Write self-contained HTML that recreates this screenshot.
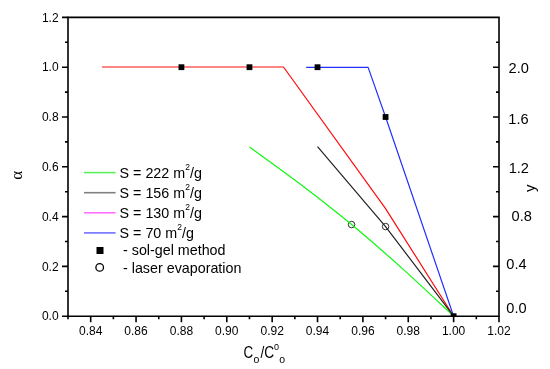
<!DOCTYPE html>
<html><head><meta charset="utf-8"><style>
html,body{margin:0;padding:0;background:#fff;}
svg{display:block;}
text{font-family:"Liberation Sans",Arial,sans-serif;fill:#000;}
</style></head><body>
<svg width="550" height="369" viewBox="0 0 550 369">
<rect width="550" height="369" fill="#fff"/>
<defs><clipPath id="c"><rect x="68" y="17.4" width="431" height="298.8"/></clipPath></defs>
<g clip-path="url(#c)"><circle cx="385.58" cy="226.56" r="3.25" fill="none" stroke="#222" stroke-width="0.95"/><circle cx="351.55" cy="224.57" r="3.25" fill="none" stroke="#222" stroke-width="0.95"/><path d="M102.03 67L283.5 67L385.58 208.63L453.63 316.2" fill="none" stroke="#ff0a0a" stroke-width="1.2" stroke-linejoin="round"/><path d="M249.6 147.1C258.83 153.87 288.05 174.83 305 187.7C321.95 200.57 334.88 210.65 351.3 224.3C367.72 237.95 386.44 254.28 403.5 269.6C420.56 284.92 445.28 308.43 453.63 316.2" fill="none" stroke="#10f810" stroke-width="1.2" stroke-linejoin="round"/><path d="M317.53 146.63L385.58 226.56L453.63 316.2" fill="none" stroke="#222" stroke-width="1.2" stroke-linejoin="round"/><path d="M306.18 67.35L368.11 67.35L385.58 117L453.63 316.2" fill="none" stroke="#2030ff" stroke-width="1.2" stroke-linejoin="round"/><rect x="178.52" y="64.3" width="5.8" height="5.8" fill="#000"/><rect x="246.57" y="64.3" width="5.8" height="5.8" fill="#000"/><rect x="314.63" y="64.3" width="5.8" height="5.8" fill="#000"/><rect x="382.68" y="114.1" width="5.8" height="5.8" fill="#000"/><rect x="450.73" y="313.3" width="5.8" height="5.8" fill="#000"/></g>
<path d="M68 17.4H499V316.2H68Z" fill="none" stroke="#000" stroke-width="1.6"/><path d="M68 316.2h-6M68 291.3h-3M68 266.4h-6M68 241.5h-3M68 216.6h-6M68 191.7h-3M68 166.8h-6M68 141.9h-3M68 117h-6M68 92.1h-3M68 67.2h-6M68 42.3h-3M68 17.4h-6M499 291.3h-3M499 266.4h-6M499 241.5h-3M499 216.6h-6M499 191.7h-3M499 166.8h-6M499 141.9h-3M499 117h-6M499 92.1h-3M499 67.2h-6M499 42.3h-3M68 316.2v3M90.68 316.2v6M113.37 316.2v3M136.05 316.2v6M158.74 316.2v3M181.42 316.2v6M204.11 316.2v3M226.79 316.2v6M249.47 316.2v3M272.16 316.2v6M294.84 316.2v3M317.53 316.2v6M340.21 316.2v3M362.89 316.2v6M385.58 316.2v3M408.26 316.2v6M430.95 316.2v3M453.63 316.2v6M476.32 316.2v3M499 316.2v6" fill="none" stroke="#000" stroke-width="1.6"/>
<g font-size="12">
<text x="58.6" y="320.4" text-anchor="end">0.0</text><text x="58.6" y="270.6" text-anchor="end">0.2</text><text x="58.6" y="220.8" text-anchor="end">0.4</text><text x="58.6" y="171" text-anchor="end">0.6</text><text x="58.6" y="121.2" text-anchor="end">0.8</text><text x="58.6" y="71.4" text-anchor="end">1.0</text><text x="58.6" y="21.6" text-anchor="end">1.2</text><text x="90.68" y="334.7" text-anchor="middle">0.84</text><text x="136.05" y="334.7" text-anchor="middle">0.86</text><text x="181.42" y="334.7" text-anchor="middle">0.88</text><text x="226.79" y="334.7" text-anchor="middle">0.90</text><text x="272.16" y="334.7" text-anchor="middle">0.92</text><text x="317.53" y="334.7" text-anchor="middle">0.94</text><text x="362.89" y="334.7" text-anchor="middle">0.96</text><text x="408.26" y="334.7" text-anchor="middle">0.98</text><text x="453.63" y="334.7" text-anchor="middle">1.00</text><text x="499" y="334.7" text-anchor="middle">1.02</text>
</g>
<g font-size="14.6"><text x="506.3" y="312.5">0.0</text><text x="506.3" y="268.6">0.4</text><text x="511.6" y="220.8">0.8</text><text x="508.7" y="172.9">1.2</text><text x="508.3" y="123.7">1.6</text><text x="508.6" y="72.5">2.0</text></g>
<g font-size="14.3"><path d="M84 172.6H115.6" stroke="#5df05d" stroke-width="1.6"/><text x="119.6" y="177.7">S = 222 m<tspan font-size="8.5" dy="-7.6">2</tspan><tspan dy="7.6">/g</tspan></text><path d="M84 192.7H115.6" stroke="#808080" stroke-width="1.6"/><text x="119.6" y="197.8">S = 156 m<tspan font-size="8.5" dy="-7.6">2</tspan><tspan dy="7.6">/g</tspan></text><path d="M84 212.8H115.6" stroke="#ff70ff" stroke-width="1.6"/><text x="119.6" y="217.9">S = 130 m<tspan font-size="8.5" dy="-7.6">2</tspan><tspan dy="7.6">/g</tspan></text><path d="M84 232.9H115.6" stroke="#7070ff" stroke-width="1.6"/><text x="119.6" y="238">S = 70 m<tspan font-size="8.5" dy="-7.6">2</tspan><tspan dy="7.6">/g</tspan></text><rect x="96.5" y="247" width="7" height="7" fill="#000"/><circle cx="99.7" cy="267.4" r="3.8" fill="none" stroke="#000" stroke-width="1.3"/><text x="123" y="255.2">- sol-gel method</text><text x="123" y="272.5">- laser evaporation</text></g>
<g font-size="15.6"><text transform="translate(243.6 358) scale(0.86 1)">C</text><text x="253.6" y="363.2" font-size="10.5">o</text><text transform="translate(260.5 358) scale(0.88 1)">/C</text><text x="274" y="349.6" font-size="9">0</text><text x="279.3" y="363.2" font-size="10.5">o</text></g><text transform="translate(21.8 175.2) rotate(-90)" font-size="17" text-anchor="middle" style="font-family:'Liberation Serif',serif">&#945;</text><text transform="translate(534.7 188.2) rotate(-90)" font-size="15" text-anchor="middle">y</text>
</svg>
</body></html>
